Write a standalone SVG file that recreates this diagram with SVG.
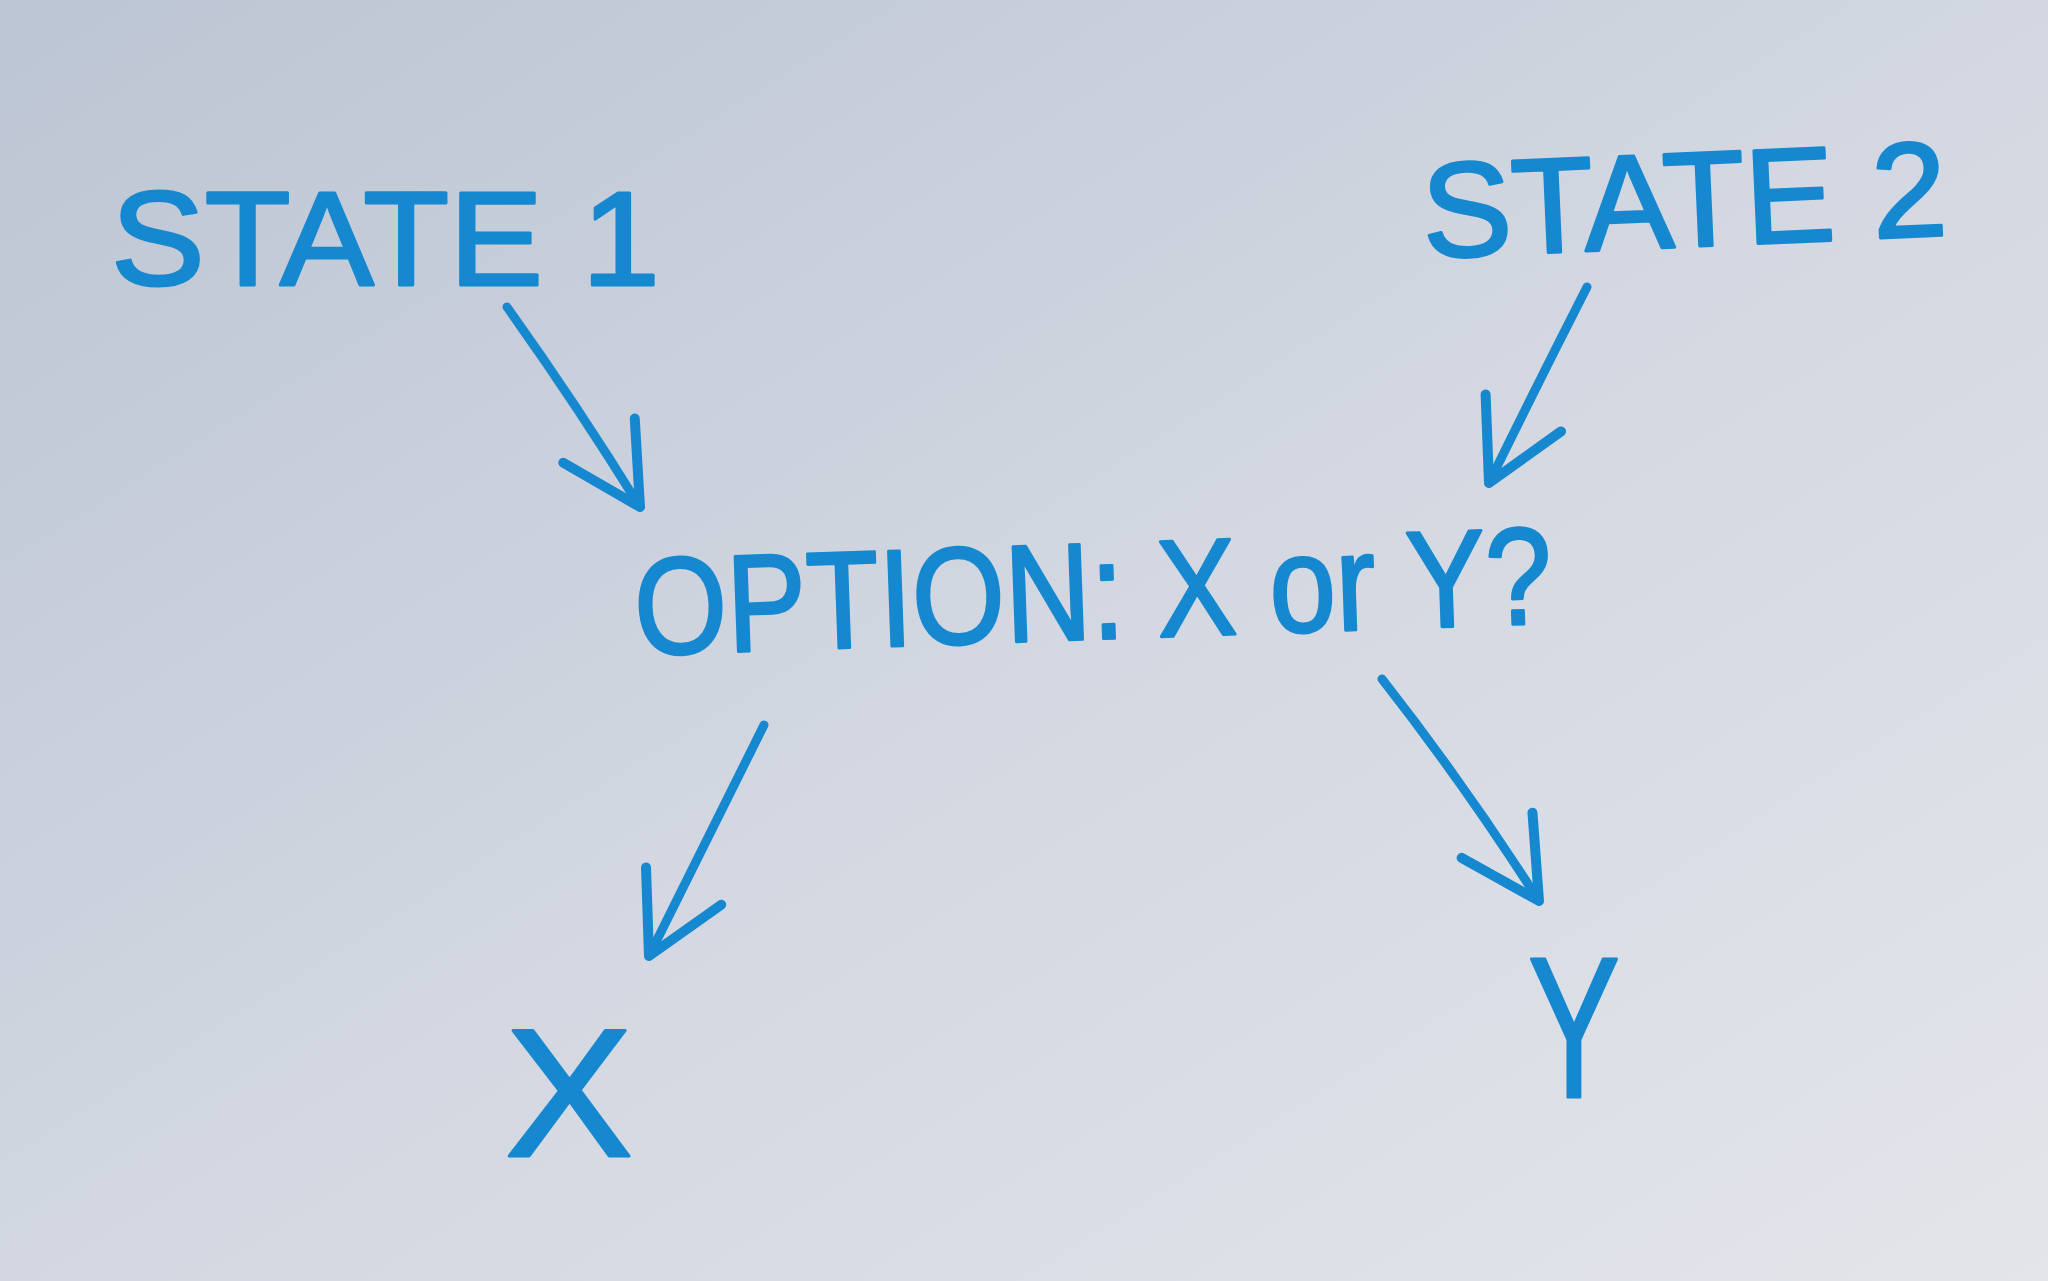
<svg xmlns="http://www.w3.org/2000/svg" width="2048" height="1281" viewBox="0 0 2048 1281">
  <defs>
    <linearGradient id="bg" x1="0" y1="0" x2="1" y2="1">
      <stop offset="0" stop-color="#bcc5d3"/>
      <stop offset="0.5" stop-color="#d2d7e1"/>
      <stop offset="1" stop-color="#e3e5ea"/>
    </linearGradient>
    <marker id="head" viewBox="-90 -60 100 120" refX="0" refY="0" markerWidth="100" markerHeight="120" markerUnits="userSpaceOnUse" orient="auto">
      <path d="M -78,-42 L 0,0 L -78,42" fill="none" stroke="#1588d0" stroke-width="10" stroke-linecap="round" stroke-linejoin="round"/>
    </marker>
    <style>
      .ink { fill: #1588d0; stroke: #1588d0; stroke-width: 3; stroke-linejoin: round; font-family: "Liberation Sans", Arial, sans-serif; }
      .edge { fill: none; stroke: #1588d0; stroke-width: 9; stroke-linecap: round; marker-end: url(#head); }
    </style>
  </defs>
  <rect width="2048" height="1281" fill="url(#bg)"/>

  <g id="state1">
    <text class="ink" x="111" y="285" font-size="133" textLength="549" lengthAdjust="spacingAndGlyphs">STATE 1</text>
  </g>
  <g id="state2">
    <text class="ink" x="1424" y="258" font-size="135" textLength="525" lengthAdjust="spacingAndGlyphs" transform="rotate(-2.5 1424 258)">STATE 2</text>
  </g>
  <g id="option">
    <text class="ink" x="636" y="655" font-size="138" textLength="918" lengthAdjust="spacingAndGlyphs" transform="rotate(-2 636 655)">OPTION: X or Y?</text>
  </g>
  <g id="x">
    <text class="ink" x="505" y="1156" font-size="182" textLength="128" lengthAdjust="spacingAndGlyphs">X</text>
  </g>
  <g id="y">
    <text class="ink" x="1528" y="1097" font-size="200" textLength="92" lengthAdjust="spacingAndGlyphs">Y</text>
  </g>

  <g id="connectors">
    <path class="edge" d="M 507,307 Q 577,405 640,507"/>
    <path class="edge" d="M 1587,287 Q 1537,385 1489,483"/>
    <path class="edge" d="M 764,725 Q 705,843 649,956"/>
    <path class="edge" d="M 1382,679 Q 1465,785 1539,901"/>
  </g>
</svg>
